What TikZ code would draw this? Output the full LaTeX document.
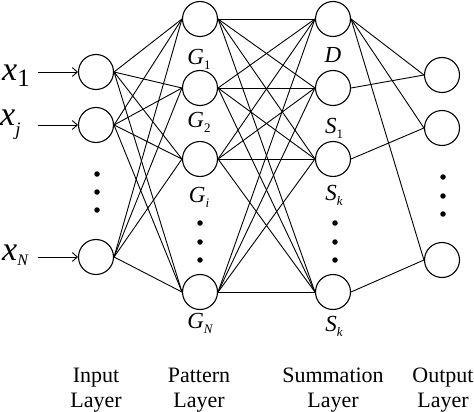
\documentclass[tikz,border=0pt]{standalone}
\usepackage{fontspec}
\setmainfont{Liberation Serif}
\usetikzlibrary{arrows.meta}

\begin{document}
\begin{tikzpicture}[x=1pt,y=-1pt,
    neuron/.style={draw, circle, line width=1.1pt, minimum size=35pt, inner sep=0pt},
    link/.style={line width=0.9pt},
    vdot/.style={fill, circle, inner sep=0pt, minimum size=5.5pt},
    varlabel/.style={font=\fontsize{23}{23}\selectfont\itshape, anchor=base, inner sep=0pt},
    inlabel/.style={font=\fontsize{34}{34}\selectfont\itshape, anchor=base west, inner sep=0pt},
    layername/.style={font=\fontsize{22}{25}\selectfont, align=center, anchor=base, inner sep=0pt}
]
\useasboundingbox (0,0) rectangle (474,412);

% input layer
\node[neuron] (i1) at (96,72) {};
\node[neuron] (i2) at (96,125) {};
\node[neuron] (i3) at (96,257) {};
\node[vdot] (di1) at (97,174) {};
\node[vdot] (di2) at (97,192) {};
\node[vdot] (di3) at (97,210) {};

% pattern layer
\node[neuron] (g1) at (200,19) {};
\node[neuron] (g2) at (200,88) {};
\node[neuron] (g3) at (200,159) {};
\node[neuron] (g4) at (200,292) {};
\node[vdot] (dg1) at (200,223) {};
\node[vdot] (dg2) at (200,242) {};
\node[vdot] (dg3) at (200,260) {};

% summation layer
\node[neuron] (sd) at (333,19) {};
\node[neuron] (s1) at (333,88) {};
\node[neuron] (s2) at (333,159) {};
\node[neuron] (s3) at (333,292) {};
\node[vdot] (ds1) at (335,223) {};
\node[vdot] (ds2) at (335,242) {};
\node[vdot] (ds3) at (335,260) {};

% output layer
\node[neuron] (o1) at (442,75) {};
\node[neuron] (o2) at (442,128) {};
\node[neuron] (o3) at (442,260) {};
\node[vdot] (do1) at (443,177) {};
\node[vdot] (do2) at (443,196) {};
\node[vdot] (do3) at (443,214) {};

% connections
\foreach \a in {i1,i2,i3}
  \foreach \b in {g1,g2,g3,g4}
    \draw[link] (\a.east) -- (\b.west);
\foreach \a in {g1,g2,g3,g4}
  \foreach \b in {sd,s1,s2,s3}
    \draw[link] (\a.east) -- (\b.west);
\foreach \b in {o1,o2,o3}
  \draw[link] (sd.east) -- (\b.west);
\draw[link] (s1.east) -- (o1.west);
\draw[link] (s2.east) -- (o2.west);
\draw[link] (s3.east) -- (o3.west);

% inputs
\node[inlabel] (x1) at (2,81) {x\raisebox{-6pt}{\upshape\fontsize{25}{25}\selectfont 1}};
\node[inlabel] (xj) at (0,125) {x\raisebox{-10pt}{\fontsize{19}{19}\selectfont j}};
\node[inlabel] (xn) at (2,260) {x\raisebox{-5pt}{\fontsize{16}{16}\selectfont N}};
\coordinate (a1) at (38,72);
\coordinate (a2) at (38,125);
\coordinate (a3) at (38,257);
\draw[link, -{Straight Barb[length=5pt,width=9pt]}] (a1) -- (i1.west);
\draw[link, -{Straight Barb[length=5pt,width=9pt]}] (a2) -- (i2.west);
\draw[link, -{Straight Barb[length=5pt,width=9pt]}] (a3) -- (i3.west);

% node labels
\node[varlabel] (lg1) at (199,65) {G\raisebox{-5pt}{\upshape\fontsize{13}{13}\selectfont 1}};
\node[varlabel] (lg2) at (199,128) {G\raisebox{-5pt}{\upshape\fontsize{13}{13}\selectfont 2}};
\node[varlabel] (lg3) at (199,202) {G\raisebox{-5pt}{\fontsize{13}{13}\selectfont i}};
\node[varlabel] (lg4) at (200,328) {G\raisebox{-5pt}{\fontsize{13}{13}\selectfont N}};
\node[varlabel] (lsd) at (333,63) {D};
\node[varlabel] (ls1) at (334,133) {S\raisebox{-5pt}{\upshape\fontsize{13}{13}\selectfont 1}};
\node[varlabel] (ls2) at (334,200) {S\raisebox{-5pt}{\fontsize{13}{13}\selectfont k}};
\node[varlabel] (ls3) at (334,331) {S\raisebox{-5pt}{\fontsize{13}{13}\selectfont k}};

% layer names
\node[layername] (n1) at (96,407) {Input\\Layer};
\node[layername] (n2) at (199,407) {Pattern\\Layer};
\node[layername] (n3) at (333,407) {Summation\\Layer};
\node[layername] (n4) at (443,407) {Output\\Layer};

\end{tikzpicture}
\end{document}
